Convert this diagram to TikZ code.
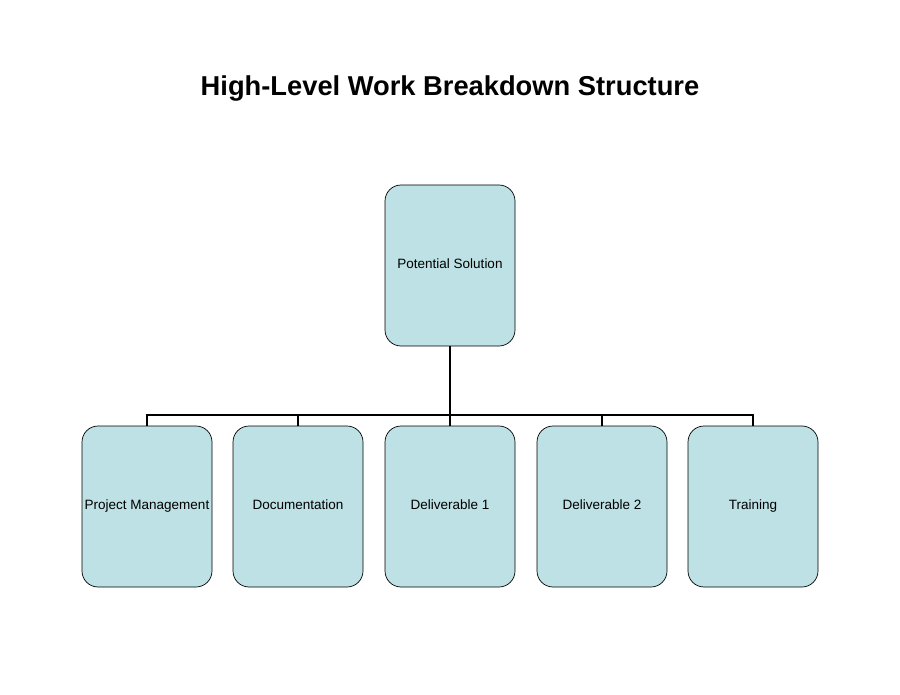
\documentclass[tikz,border=0pt]{standalone}
\usepackage{fontspec}
\setmainfont{Liberation Sans}
\definecolor{boxfill}{HTML}{BDE1E4}
\begin{document}
\begin{tikzpicture}[x=1pt,y=-1pt,
  wbs/.style={draw=black,fill=boxfill,rounded corners=16pt,minimum width=130pt,minimum height=161pt,inner sep=0pt,font=\fontsize{13.5}{16}\selectfont,line width=0.7pt,execute at begin node=\vphantom{Ag}},
  conn/.style={line width=1.8pt}]
\useasboundingbox (0,0) rectangle (900,695);
\node[font=\bfseries\fontsize{27.3}{32}\selectfont] (title) at (450,89) {High-Level Work Breakdown Structure};
\node[wbs] (top) at (450,265.5) {Potential Solution};
\node[wbs] (pm) at (147,506.5) {Project Management};
\node[wbs] (doc) at (298,506.5) {Documentation};
\node[wbs] (d1) at (450,506.5) {Deliverable 1};
\node[wbs] (d2) at (602,506.5) {Deliverable 2};
\node[wbs] (tr) at (753,506.5) {Training};
\coordinate (bus) at (450,415);
\draw[conn] (top.south) -- (bus);
\foreach \n in {pm,doc,d1,d2,tr}{\draw[conn] (\n.north) |- (bus);}
\end{tikzpicture}
\end{document}
